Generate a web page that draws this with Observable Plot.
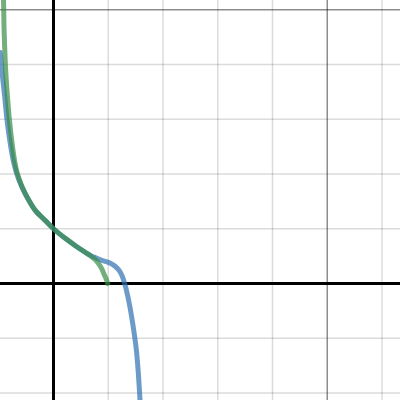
<!DOCTYPE html>
<html>
<head>
<meta charset="utf-8">
<script src="https://cdn.jsdelivr.net/npm/d3@7"></script>
<script src="https://cdn.jsdelivr.net/npm/@observablehq/plot@0.6"></script>
<style>
  html, body { margin: 0; padding: 0; background: #fff; overflow: hidden; }
  #chart svg { display: block; }
</style>
</head>
<body>
<div id="chart"></div>
<script>
// Grid values
const minorGridX = [1, 2, 3, 4, 6];
const majorGridX = [5];
const minorGridY = [-2, -1, 1, 2, 3, 4];
const majorGridY = [5];

// Blue curve
const blueX = [-0.972, -0.960, -0.924, -0.890, -0.848, -0.798, -0.736, -0.676, -0.575, -0.451, -0.329, -0.146, 0, 0.22, 0.40, 0.58, 0.70, 0.77, 0.86, 0.96, 1.04, 1.12, 1.19, 1.25, 1.30, 1.35, 1.40, 1.45, 1.50, 1.52, 1.545, 1.565, 1.58, 1.588];
const blueY = [4.22, 4.08, 3.71, 3.40, 2.98, 2.61, 2.25, 2.02, 1.76, 1.52, 1.33, 1.145, 1.0, 0.82, 0.69, 0.57, 0.50, 0.47, 0.43, 0.40, 0.37, 0.32, 0.25, 0.146, 0, -0.20, -0.45, -0.75, -1.10, -1.28, -1.58, -1.88, -2.12, -2.26];

// Green curve
const greenX = [-0.918, -0.913, -0.902, -0.880, -0.862, -0.840, -0.804, -0.763, -0.712, -0.663, -0.572, -0.451, -0.329, -0.146, 0, 0.22, 0.40, 0.58, 0.70, 0.77, 0.83, 0.88, 0.92, 0.955, 0.975, 0.99];
const greenY = [5.25, 5.169, 4.62, 4.02, 3.71, 3.40, 2.98, 2.61, 2.25, 2.02, 1.76, 1.52, 1.33, 1.145, 1.0, 0.82, 0.69, 0.57, 0.49, 0.43, 0.355, 0.27, 0.18, 0.10, 0.05, 0];

const blue = blueX.map((x, i) => ({x, y: blueY[i]}));
const green = greenX.map((x, i) => ({x, y: greenY[i]}));

const chart = Plot.plot({
  width: 400,
  height: 400,
  margin: 0,
  x: {domain: [-0.968, 6.338], axis: null},
  y: {domain: [-2.137, 5.169], axis: null},
  marks: [
    Plot.ruleX(minorGridX, {stroke: "#000", strokeOpacity: 0.14, strokeWidth: 1.5}),
    Plot.ruleY(minorGridY, {stroke: "#000", strokeOpacity: 0.14, strokeWidth: 1.5}),
    Plot.ruleX(majorGridX, {stroke: "#000", strokeOpacity: 0.45, strokeWidth: 1.5}),
    Plot.ruleY(majorGridY, {stroke: "#000", strokeOpacity: 0.45, strokeWidth: 1.5}),
    Plot.ruleX([0], {stroke: "#000", strokeWidth: 3}),
    Plot.ruleY([0], {stroke: "#000", strokeWidth: 3}),
    Plot.line(blue, {x: "x", y: "y", stroke: "#2d70b3", strokeOpacity: 0.7, strokeWidth: 5, curve: "catmull-rom", clip: true}),
    Plot.line(green, {x: "x", y: "y", stroke: "#388c46", strokeOpacity: 0.7, strokeWidth: 5, curve: "catmull-rom", clip: true})
  ]
});
document.getElementById("chart").appendChild(chart);
</script>
</body>
</html>
